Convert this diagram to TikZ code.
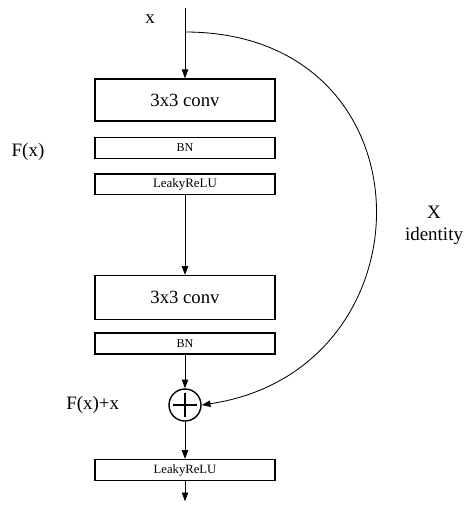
\documentclass[tikz,border=0pt]{standalone}
\usepackage{fontspec}
\setmainfont{Liberation Serif}
\usepackage{tikz}
\usetikzlibrary{positioning, arrows.meta}
\tikzset{
    >={Triangle[length=2.2mm,width=1.6mm]},
    every path/.style={line width=0.6pt},
    layer/.style={draw, line width=1pt, minimum width=4.5cm, inner sep=0pt},
    bigbox/.style={layer, minimum height=1.05cm, font=\fontsize{13.3}{15.6}\selectfont},
    thinbox/.style={layer, minimum height=0.525cm, font=\fontsize{8.6}{10}\selectfont},
    actbox/.style={layer, minimum height=0.51cm, font=\fontsize{9.2}{11}\selectfont},
    plusnode/.style={circle, draw, line width=1pt, minimum size=0.8cm, inner sep=0pt},
    label text/.style={font=\fontsize{13.5}{15.6}\selectfont, align=center}
}

\begin{document}
\begin{tikzpicture}
    % residual block
        \useasboundingbox (0,0) rectangle (11.85,12.625);
        \coordinate (in) at (4.625,12.425);
        \coordinate (split) at (4.625,11.825);
        \node[bigbox] (conv1) at (4.625,10.125) {3x3 conv};
        \node[thinbox, below=0.375cm of conv1] (bn1) {BN};
        \node[actbox, below=0.35cm of bn1] (lrelu1) {LeakyReLU};
        \node[bigbox, below=2cm of lrelu1, minimum height=1.1cm] (conv2) {3x3 conv};
        \node[thinbox, below=0.3cm of conv2] (bn2) {BN};
        \node[plusnode, below=0.84cm of bn2] (plus) {};
        \node[thinbox, below=0.93cm of plus, font=\fontsize{9}{11}\selectfont] (lrelu2) {LeakyReLU};
        \coordinate[below=0.5cm of lrelu2] (out);
        \draw[line width=2pt] (plus.center) ++(-0.3,0) -- ++(0.6,0)
            (plus.center) ++(0,-0.3) -- ++(0,0.6);

        % labels
        \node[label text] (xlab) at (3.75,12.15) {x};
        \node[label text] (fx) at (0.7,8.82) {F(x)};
        \node[label text, left=1.1cm of plus] (fxx) {F(x)+x};
        \node[label text] (ident) at (10.85,7.0) {X\\identity};

        % connections
        \draw[->] (in) -- (conv1);
        \draw[->] (lrelu1) -- (conv2);
        \draw[->] (bn2) -- (plus);
        \draw[->] (plus) -- (lrelu2);
        \draw[->] (lrelu2) -- (out);
        \draw[->] (split) .. controls (10.9,11.825) and (10.9,3.375) .. (plus.east);

    \end{tikzpicture}
\end{document}
